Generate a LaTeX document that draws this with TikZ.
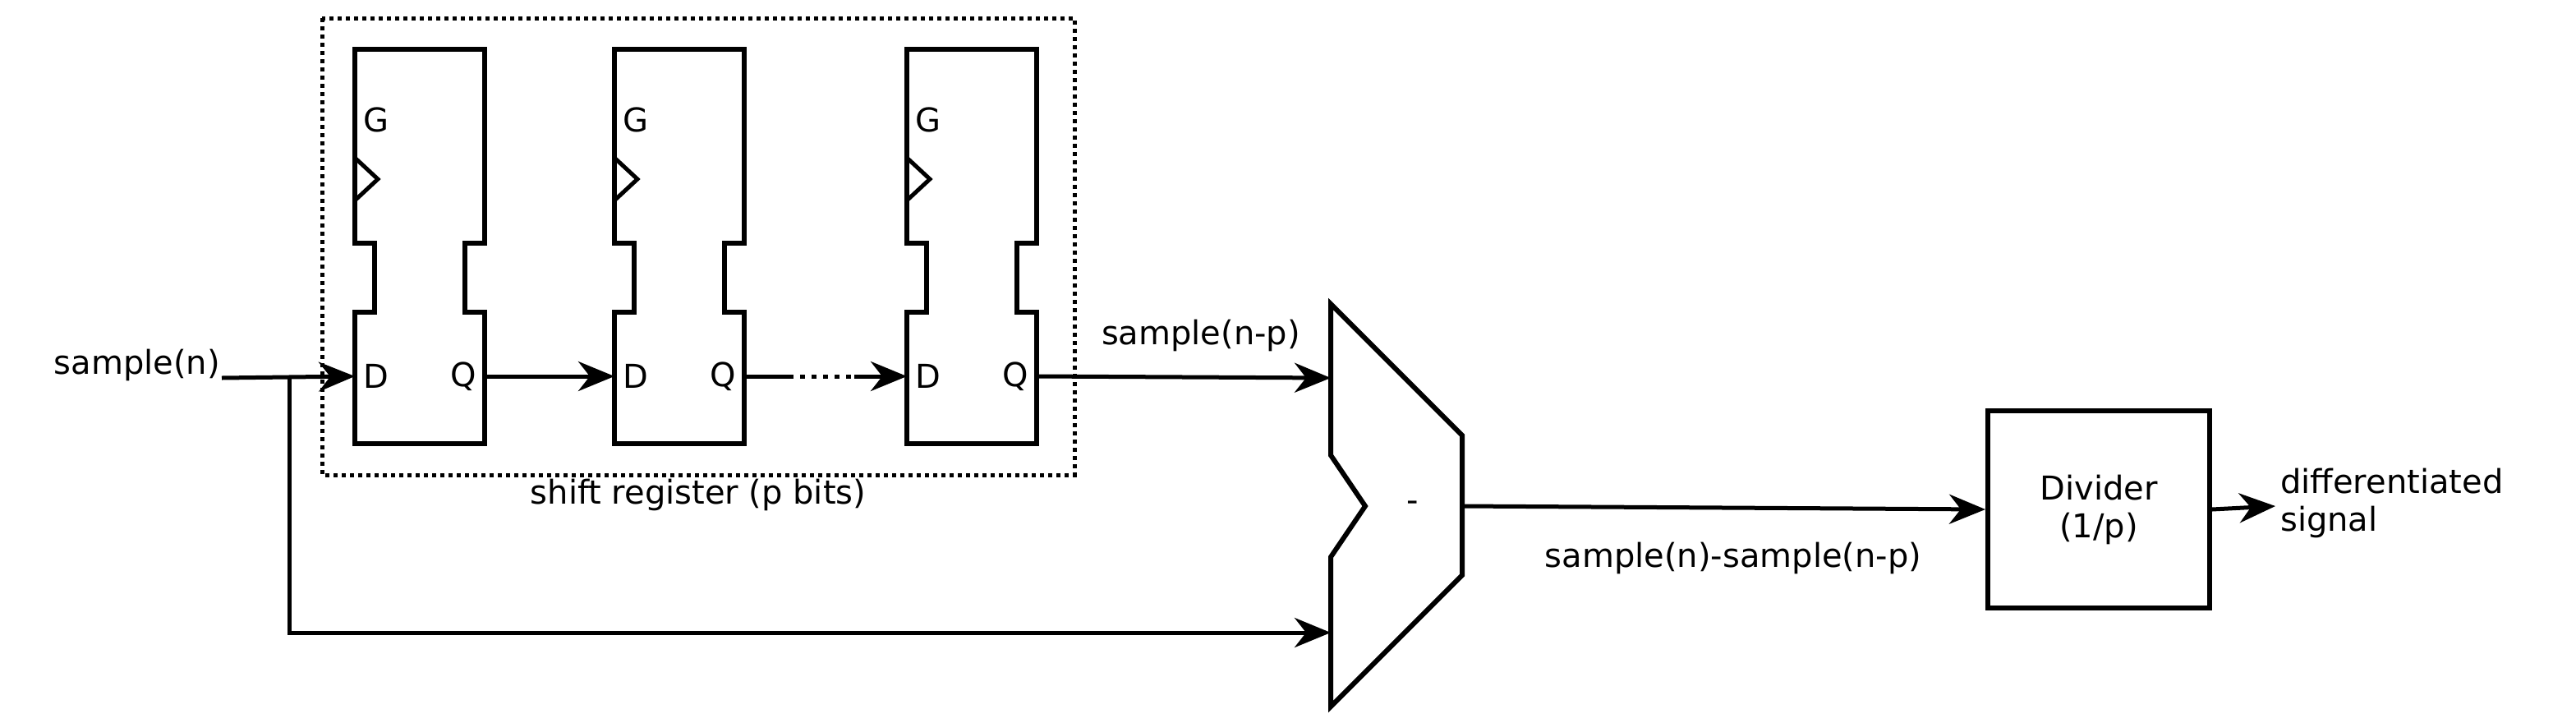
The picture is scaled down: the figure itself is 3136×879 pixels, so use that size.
\documentclass[tikz,border=0pt]{standalone}
\usepackage{fontspec}
\setmainfont{DejaVu Sans}
\usetikzlibrary{arrows.meta}
\begin{document}
\begin{tikzpicture}[x=1pt,y=-1pt,
  wire/.style={line width=5pt},
  arr/.style={wire,-{Stealth[length=44pt,width=36pt,inset=14pt]}},
  blk/.style={line width=6pt,line join=miter},
  lbl/.style={font=\fontsize{40}{46}\selectfont,inner sep=0pt}]
\useasboundingbox (0,0) rectangle (3136,879);
% flip-flops
\foreach \n/\x in {1/432,2/748,3/1104}{
  \draw[blk] (\x,60) -- ++(158,0) -- ++(0,236) -- ++(-24,0) -- ++(0,84) -- ++(24,0) -- ++(0,160)
    -- ++(-158,0) -- ++(0,-160) -- ++(24,0) -- ++(0,-84) -- ++(-24,0) -- cycle;
  \draw[line width=5pt] (\x,192) -- ++(28,26) -- ++(-28,26);
  \node[lbl,anchor=west] (g\n) at (\x+10,146) {G};
  \node[lbl,anchor=west] (d\n) at (\x+10,458) {D};
  \node[lbl,anchor=east] (q\n) at (\x+148,458) {Q};
  \coordinate (di\n) at (\x,458);
  \coordinate (qo\n) at (\x+158,458);
}
\draw[line width=5pt,dotted,dash pattern=on 5pt off 5pt] (392,22) rectangle (1308,578);
\node[lbl] (sr) at (850,602) {shift register (p bits)};
% input
\node[lbl,anchor=east] (in) at (268,444) {sample(n)};
\coordinate (ins) at (270,460);
\coordinate (br) at (352,460);
\draw[arr] (ins) -- (di1);
\draw[arr] (qo1) -- (di2);
\draw[wire] (qo2) -- (960,458);
\draw[wire,dash pattern=on 6pt off 8pt] (960,458) -- (1040,458);
\draw[arr] (1040,458) -- (di3);
% subtractor
\draw[blk] (1620,370) coordinate(s1) -- (1780,530) -- (1780,700) -- (1620,860) -- (1620,678) -- (1662,616) -- (1620,554) -- cycle;
\node[lbl] (minus) at (1720,616) {-};
\coordinate (sa) at (1620,460);
\coordinate (sb) at (1620,770);
\coordinate (so) at (1780,616);
\draw[arr] (qo3) -- (sa);
\node[lbl,anchor=south] (snp) at (1462,428) {sample(n-p)};
\draw[wire] (br) |- (1560,770);
\draw[arr] (br) |- (sb);
% divider
\node[draw,line width=6pt,minimum width=270pt,minimum height=240pt,lbl,align=center] (div) at (2555,620) {Divider\\(1/p)};
\draw[arr] (so) -- (div.west);
\node[lbl,anchor=north] (diff) at (2110,660) {sample(n)-sample(n-p)};
\coordinate (out) at (2770,616);
\draw[arr] (div.east) -- (out);
\node[lbl,anchor=west,align=left] (sig) at (2776,612) {differentiated\\signal};
\end{tikzpicture}
\end{document}
